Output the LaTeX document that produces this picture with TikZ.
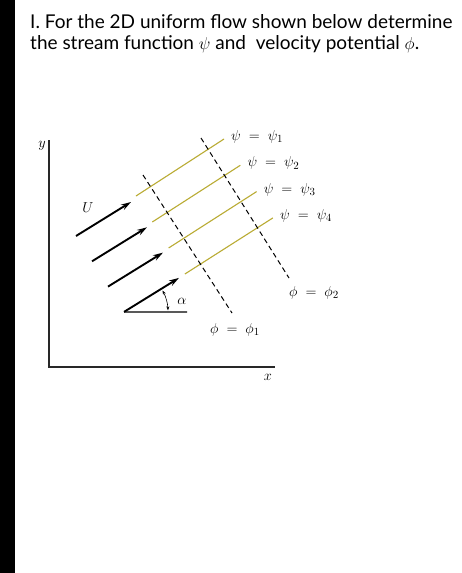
\documentclass[tikz,border=0pt]{standalone}
\usepackage{fontspec}
\setmainfont{Lato}
\usepackage{xcolor}
\usetikzlibrary{arrows.meta, positioning, calc}

\definecolor{streamyellow}{RGB}{186,172,52}
\definecolor{axisgray}{RGB}{40,40,40}

\begin{document}
\begin{tikzpicture}[
			x=1pt, y=-1pt,
			title/.style={anchor=base west, inner sep=0pt, font=\fontsize{19}{21}\selectfont},
			eqlabel/.style={inner sep=0pt, font=\fontsize{15}{17}\selectfont},
			streamline/.style={streamyellow, line width=1.1pt},
			potline/.style={black, line width=1pt, dash pattern=on 5pt off 3.5pt},
			flowarrow/.style={-{Stealth[length=10pt, width=6pt]}, line width=1.9pt},
			axis/.style={axisgray, line width=1.8pt}
			]
			
			% Frame
			\useasboundingbox (0,0) rectangle (461,573);
			\fill[white] (0,0) rectangle (461,573);
			\fill[black] (0,0) rectangle (15,573);
			
			% Title
			\node (line1) [title] at (30,28) {I. For the 2D uniform flow shown below determine};
			\node (line2) [title] at (30,49) {the stream function $\psi$ and\ \ velocity potential $\phi$.};
			
			% Axes
			\coordinate (ytop) at (49,140);
			\coordinate (origin) at (49,367);
			\coordinate (xend) at (275,367);
			\draw [axis] (ytop) -- (origin) -- (xend);
			\node (ylabel) [eqlabel] at (42,146) {$y$};
			\node (xlabel) [eqlabel] at (268,377) {$x$};
			
			% Streamlines
			\foreach \i in {1,...,4} {
				\coordinate (s\i a) at ({136+16.3*(\i-1)},{196+26*(\i-1)});
				\coordinate (s\i b) at ({224+16.3*(\i-1)},{139+26.3*(\i-1)});
				\draw [streamline] (s\i a) -- (s\i b);
				\node (psi\i) [eqlabel, anchor=west] at ($(s\i b)+(7,-2)$) {$\psi \;=\; \psi_{\i}$};
			}
			
			% Potential lines
			\coordinate (p1a) at (143,175);
			\coordinate (p1b) at (232,313);
			\coordinate (p2a) at (201,138);
			\coordinate (p2b) at (289,278);
			\draw [potline] (p1a) -- (p1b);
			\draw [potline] (p2a) -- (p2b);
			\node (phi1) [eqlabel] at (235,330) {$\phi \;=\; \phi_1$};
			\node (phi2) [eqlabel] at (314,293) {$\phi \;=\; \phi_2$};
			
			% Flow arrows
			\foreach \i in {1,...,4} {
				\coordinate (u\i a) at ({76+16*(\i-1)},{236+25.3*(\i-1)});
				\coordinate (u\i b) at ({131+16*(\i-1)},{202+25.3*(\i-1)});
				\draw [flowarrow] (u\i a) -- (u\i b);
			}
			\node (ulabel) [eqlabel] at (88,208) {$U$};
			
			% Angle
			\coordinate (hend) at (187,312);
			\draw [line width=1.3pt] (u4a) -- (hend);
			\draw [{Stealth[length=4pt, width=3pt]}-{Stealth[length=4pt, width=3pt]}, line width=0.6pt]
				($(u4a)+(-29:44)$) arc [start angle=-29, end angle=-2, radius=44];
			\node (alpha) [eqlabel] at (182,301) {$\alpha$};
			
		\end{tikzpicture}
\end{document}
